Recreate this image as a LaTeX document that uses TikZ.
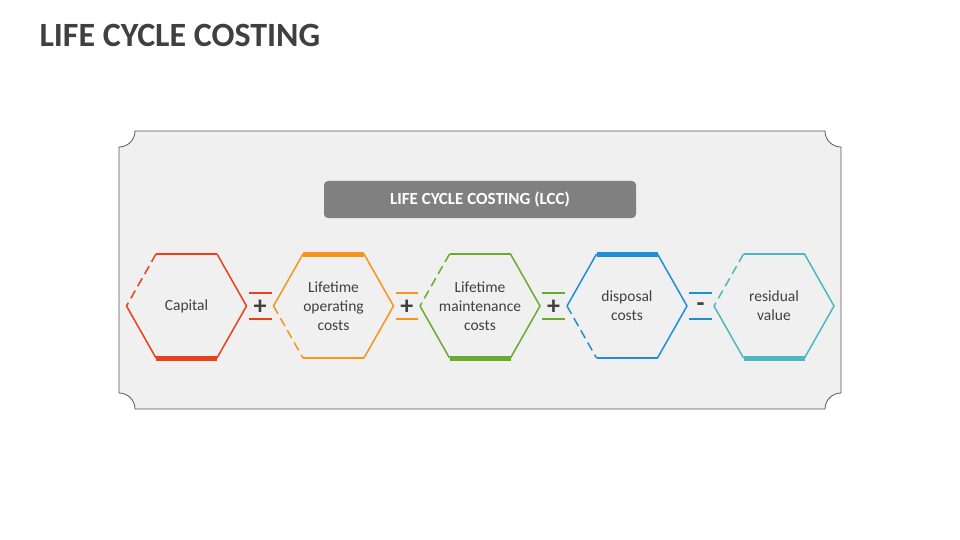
\documentclass[tikz,border=0pt]{standalone}
\usepackage{fontspec}
\setmainfont{Carlito}
\usetikzlibrary{calc}
\definecolor{cred}{HTML}{E8411B}
\definecolor{corange}{HTML}{F7941D}
\definecolor{cgreen}{HTML}{6AAB2E}
\definecolor{cblue}{HTML}{1E8FD5}
\definecolor{cteal}{HTML}{4BB8C0}
\definecolor{tgrey}{HTML}{404040}
\begin{document}
\begin{tikzpicture}[x=1pt,y=-1pt,
  edge/.style={line width=1.5pt},
  dashedge/.style={line width=1.5pt,dash pattern=on 9pt off 5pt},
  bar/.style={line width=5pt},
  lbl/.style={font=\fontsize{15.5}{19}\selectfont,text=tgrey,align=center},
  conn/.style={line width=1.5pt},
  op/.style={font=\fontsize{26}{26}\bfseries\selectfont,text=tgrey}]
\useasboundingbox (0,0) rectangle (960,540);
\node[anchor=west,font=\fontsize{34}{38}\bfseries\selectfont,text=tgrey] (title) at (36,35) {LIFE CYCLE COSTING};
% frame
\draw[gray!70!black,fill=black!6,line width=0.8pt]
  (135,131) -- (825,131) arc[start angle=180,end angle=270,radius=16pt]
  -- (841,393) arc[start angle=90,end angle=180,radius=16pt]
  -- (135,409) arc[start angle=0,end angle=90,radius=16pt]
  -- (119,147) arc[start angle=270,end angle=360,radius=16pt] -- cycle;
\node[fill=black!50,rounded corners=4pt,minimum width=312pt,minimum height=37pt,text=white,font=\fontsize{17}{20}\bfseries\selectfont] (lcc) at (480,199.5) {LIFE CYCLE COSTING (LCC)};
% hexagons
\foreach \cx/\col/\du/\bt/\nm/\txt in {186.5/cred/1/0/h1/Capital,333.5/corange/0/1/h2/{Lifetime\\operating\\costs},480/cgreen/1/0/h3/{Lifetime\\maintenance\\costs},627/cblue/0/1/h4/{disposal\\costs},774/cteal/1/0/h5/{residual\\value}}{
  \node[lbl] (\nm) at (\cx,306) {\txt};
  \coordinate (\nm-l) at ($(\nm)+(-60,0)$);
  \coordinate (\nm-r) at ($(\nm)+(60,0)$);
  \coordinate (\nm-tl) at ($(\nm)+(-30.5,-52)$);
  \coordinate (\nm-tr) at ($(\nm)+(30.5,-52)$);
  \coordinate (\nm-bl) at ($(\nm)+(-30.5,52)$);
  \coordinate (\nm-br) at ($(\nm)+(30.5,52)$);
  \draw[edge,\col] (\nm-tr) -- (\nm-r) -- (\nm-br);
  \ifnum\du=1
    \draw[dashedge,\col] (\nm-tl) -- (\nm-l);
    \draw[edge,\col] (\nm-l) -- (\nm-bl);
  \else
    \draw[edge,\col] (\nm-tl) -- (\nm-l);
    \draw[dashedge,\col] (\nm-l) -- (\nm-bl);
  \fi
  \ifnum\bt=1
    \draw[bar,\col] (\nm-tl) -- (\nm-tr);
    \draw[edge,\col] (\nm-bl) -- (\nm-br);
  \else
    \draw[edge,\col] (\nm-tl) -- (\nm-tr);
    \draw[bar,\col] (\nm-bl) -- (\nm-br);
  \fi
}
% connectors
\foreach \a/\b/\col/\s in {h1/h2/cred/+,h2/h3/corange/+,h3/h4/cgreen/+,h4/h5/cblue/-}{
  \draw[conn,\col] ($(\a-r)+(2,-13)$) -- ($(\b-l)+(-2,-13)$);
  \draw[conn,\col] ($(\a-r)+(2,13)$) -- ($(\b-l)+(-2,13)$);
  \node[op] at ($(\a-r)!0.5!(\b-l)+(0,1)$) {\s};
}
\end{tikzpicture}
\end{document}
